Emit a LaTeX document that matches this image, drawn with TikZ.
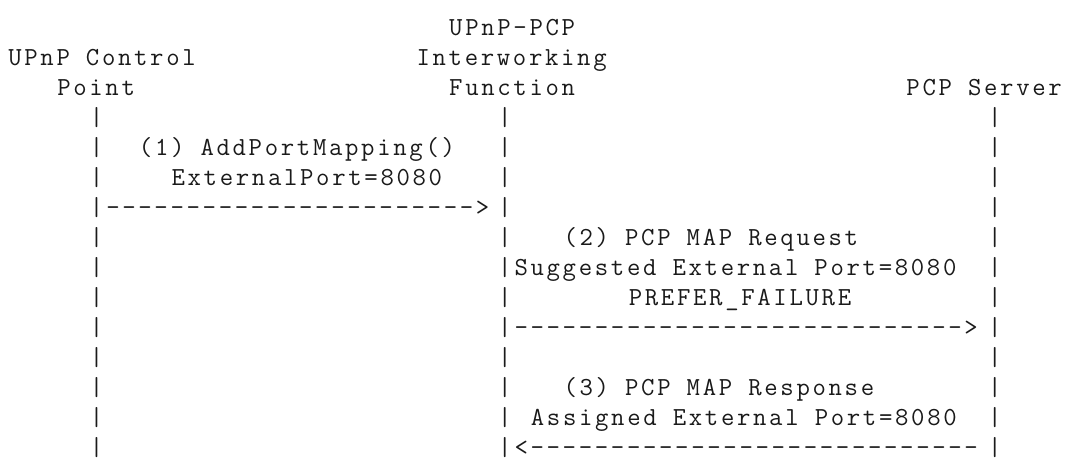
\documentclass[tikz,border=0pt]{standalone}
\usepackage{fontspec}
\setmonofont{Latin Modern Mono}[LetterSpace=10.31]
\definecolor{ink}{HTML}{1A1A1A}
\tikzset{
  ch/.style={anchor=base west, inner sep=0pt, outer sep=0pt, text=ink,
             font=\ttfamily\fontsize{26pt}{30pt}\selectfont},
}
\begin{document}
\begin{tikzpicture}[x=16.33pt, y=-30pt]
\useasboundingbox[fill=white] (0pt,0pt) rectangle (1080pt,-459pt);
\begin{scope}[shift={(8.3pt,-35pt)}]
  % headers
  \node[ch] (iwf1) at (27,0) {UPnP-PCP};
  \node[ch] (cp1)  at (0,1)  {UPnP Control};
  \node[ch] (iwf2) at (25,1) {Interworking};
  \node[ch] (cp2)  at (3,2)  {Point};
  \node[ch] (iwf3) at (27,2) {Function};
  \node[ch] (srv)  at (55,2) {PCP Server};
  % lifelines
  \foreach \r in {3,...,14} {
    \node[ch] (la\r) at (5,\r)  {|};
    \node[ch] (lb\r) at (30,\r) {|};
    \node[ch] (lc\r) at (60,\r) {|};
  }
  % message 1
  \node[ch] (m1a) at (8,4)  {(1) AddPortMapping()};
  \node[ch] (m1b) at (10,5) {ExternalPort=8080};
  \node[ch] (ar1) at (6,6)  {----------------------->};
  % message 2
  \node[ch] (m2a) at (34,7) {(2) PCP MAP Request};
  \node[ch] (m2b) at (31,8) {Suggested External Port=8080};
  \node[ch] (m2c) at (38,9) {PREFER\_FAILURE};
  \node[ch] (ar2) at (31,10) {---------------------------->};
  % message 3
  \node[ch] (m3a) at (34,12) {(3) PCP MAP Response};
  \node[ch] (m3b) at (32,13) {Assigned External Port=8080};
  \node[ch] (ar3) at (31,14) {<----------------------------};
\end{scope}
\end{tikzpicture}
\end{document}
